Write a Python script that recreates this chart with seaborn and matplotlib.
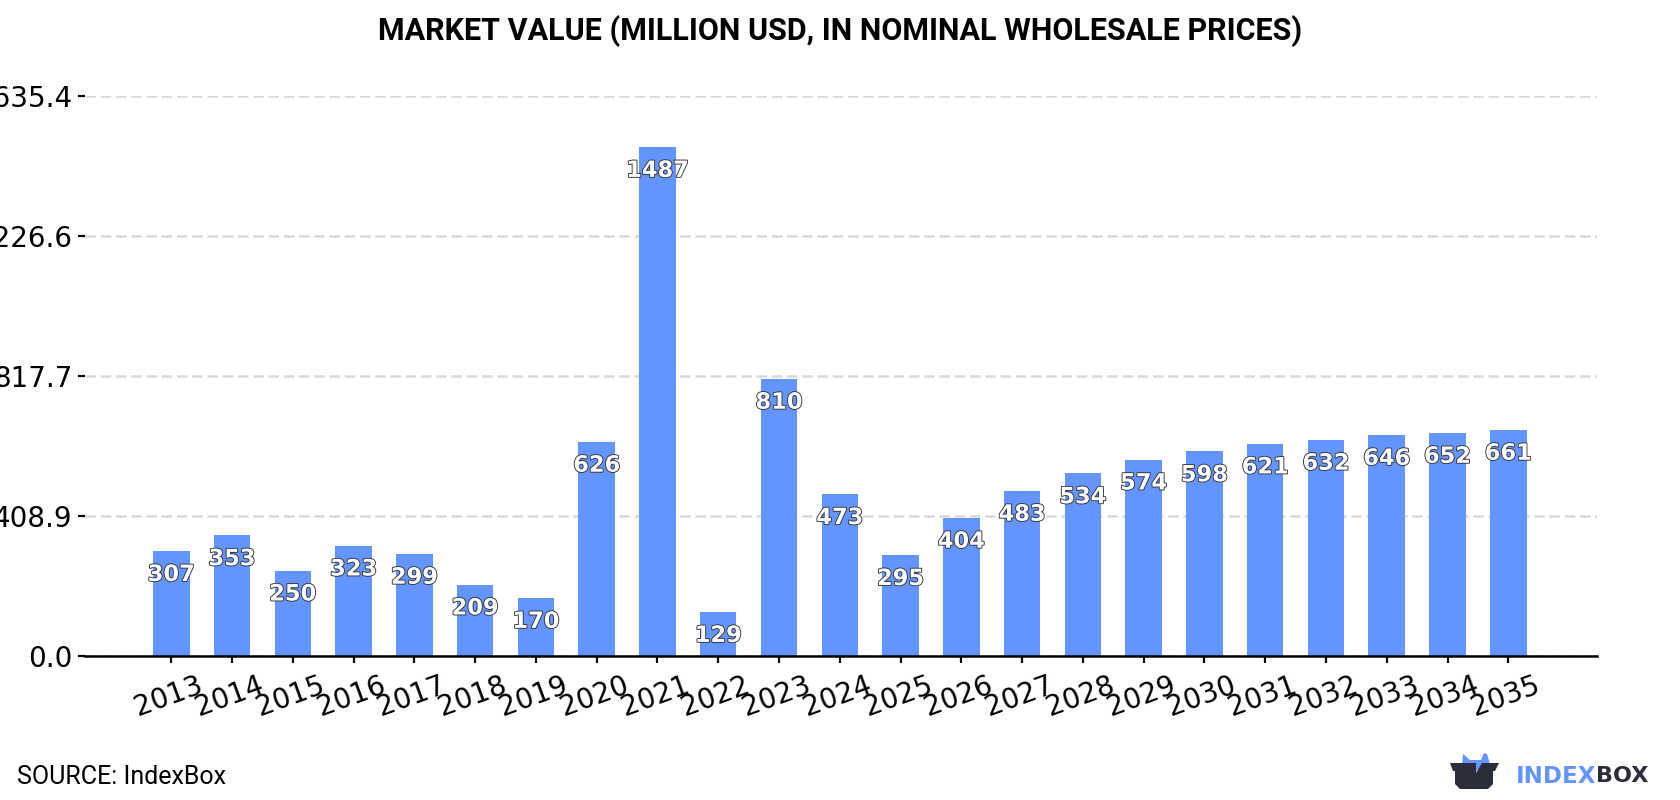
import matplotlib
matplotlib.use("Agg")
import matplotlib.pyplot as plt
import matplotlib.patheffects as pe
from matplotlib.patches import Polygon
from matplotlib.transforms import ScaledTranslation
import pandas as pd
import seaborn as sns

years = list(range(2013, 2036))
values = [307, 353, 250, 323, 299, 209, 170, 626, 1487, 129, 810, 473, 295,
          404, 483, 534, 574, 598, 621, 632, 646, 652, 661]
y_ticks = [0.0, 408.9, 817.7, 1226.6, 1635.4]

BAR = "#6495FF"
DARK = "#2B2D3A"
W, H = 1680, 800

sns.set_theme(style="white")
plt.rcParams["font.family"] = ["DejaVu Sans"]

df = pd.DataFrame({"year": years, "value": values})

fig = plt.figure(figsize=(W / 100, H / 100), dpi=100, facecolor="white")
ax = fig.add_axes([85 / W, 1 - 656.2 / H, (1597 - 85) / W, (656.2 - 96.2) / H])

sns.barplot(data=df, x="year", y="value", color=BAR, saturation=1, width=0.6,
            linewidth=0, edgecolor="none", ax=ax, zorder=3)

ax.set_xlim(-1.42, 23.46)
ax.set_ylim(0, 1635.4)
ax.set_yticks(y_ticks, [f"{t:.1f}" for t in y_ticks])
ax.set_xlabel("")
ax.set_ylabel("")
ax.yaxis.grid(True, color="#D9D9D9", linewidth=1.8, linestyle=(0, (4.2, 1.9)), zorder=0)
ax.xaxis.grid(False)
ax.set_axisbelow(True)

for side in ("top", "right", "left"):
    ax.spines[side].set_visible(False)
ax.spines["bottom"].set_linewidth(1.8)
ax.spines["bottom"].set_color("black")
ax.spines["bottom"].set_zorder(6)

ax.tick_params(axis="y", length=5, width=1.6, color="black", pad=4, labelsize=20,
               labelcolor="black", left=True)
ax.tick_params(axis="x", length=5, width=1.6, color="black", pad=6, labelsize=20,
               labelcolor="black", bottom=True)
shift = ScaledTranslation(-2.5 / 100, 0, fig.dpi_scale_trans)
for lab in ax.get_xticklabels():
    lab.set_rotation(20)
    lab.set_ha("center")
    lab.set_transform(lab.get_transform() + shift)

# value labels sit just inside the top of each bar
for i, v in enumerate(values):
    ax.annotate(str(v), (i, v), xytext=(0, -17.2), textcoords="offset points",
                ha="center", va="center", fontsize=16.2, fontweight="bold",
                color="white", zorder=5,
                path_effects=[pe.withStroke(linewidth=1.3, foreground="#333333")])

fig.text(840 / W, 1 - 31.5 / H, "MARKET VALUE (MILLION USD, IN NOMINAL WHOLESALE PRICES)",
         ha="center", va="center", fontsize=22, fontweight="bold",
         family="Roboto", color="black")
fig.text(17 / W, 1 - 776.5 / H, "SOURCE: IndexBox", ha="left", va="center",
         fontsize=18, family="Roboto", color="black")

# IndexBox wordmark and box logo, in pixel coordinates
logo = fig.add_axes([0, 0, 1, 1], facecolor="none")
logo.set_xlim(0, W)
logo.set_ylim(H, 0)
logo.axis("off")
logo.add_patch(Polygon([(1462, 765), (1463, 754), (1470, 760), (1481, 760), (1484, 753),
                        (1487, 754), (1490, 764), (1482, 764), (1476, 772), (1462, 772)],
                       closed=True, facecolor=BAR, edgecolor="none"))
logo.add_patch(Polygon([(1450, 763), (1476, 763), (1476, 773), (1482, 763), (1499, 763),
                        (1495, 771), (1493, 771), (1493, 784), (1488, 789), (1460, 789),
                        (1455, 784), (1455, 771), (1453, 771)],
                       closed=True, facecolor=DARK, edgecolor="none"))
logo.text(1516, 774, "INDEX", ha="left", va="center_baseline", fontsize=16.6, fontweight="bold",
          family="DejaVu Sans", color=BAR)
logo.text(1596, 774, "BOX", ha="left", va="center_baseline", fontsize=16, fontweight="bold",
          family="DejaVu Sans", color=DARK)

fig.savefig("out.png", dpi=100, facecolor="white")
